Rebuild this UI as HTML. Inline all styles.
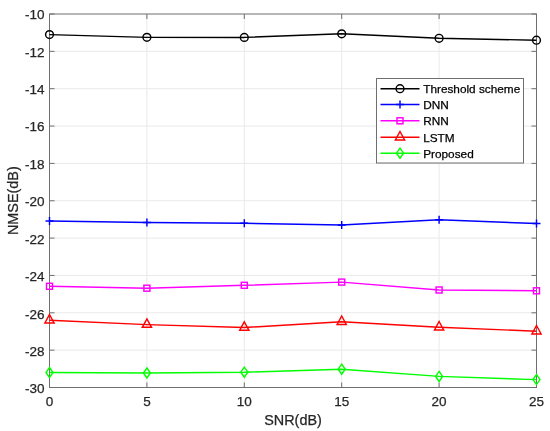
<!DOCTYPE html>
<html><head><meta charset="utf-8"><style>
html,body{margin:0;padding:0;background:#fff;}
svg{display:block;}
text{font-family:"Liberation Sans",Arial,sans-serif;fill:#262626;stroke:#262626;stroke-width:0.25px;}
.t{font-size:13.5px;}
.l{font-size:14.4px;}
.g{font-size:11.8px;fill:#000;stroke:#000;}
</style></head><body>
<svg width="550" height="431" viewBox="0 0 550 431">
<rect width="550" height="431" fill="#fff"/>
<line x1="146.90" y1="14.0" x2="146.90" y2="387.5" stroke="#e9e9e9" stroke-width="1"/>
<line x1="244.30" y1="14.0" x2="244.30" y2="387.5" stroke="#e9e9e9" stroke-width="1"/>
<line x1="341.70" y1="14.0" x2="341.70" y2="387.5" stroke="#e9e9e9" stroke-width="1"/>
<line x1="439.10" y1="14.0" x2="439.10" y2="387.5" stroke="#e9e9e9" stroke-width="1"/>
<line x1="49.5" y1="51.35" x2="536.5" y2="51.35" stroke="#e9e9e9" stroke-width="1"/>
<line x1="49.5" y1="88.70" x2="536.5" y2="88.70" stroke="#e9e9e9" stroke-width="1"/>
<line x1="49.5" y1="126.05" x2="536.5" y2="126.05" stroke="#e9e9e9" stroke-width="1"/>
<line x1="49.5" y1="163.40" x2="536.5" y2="163.40" stroke="#e9e9e9" stroke-width="1"/>
<line x1="49.5" y1="200.75" x2="536.5" y2="200.75" stroke="#e9e9e9" stroke-width="1"/>
<line x1="49.5" y1="238.10" x2="536.5" y2="238.10" stroke="#e9e9e9" stroke-width="1"/>
<line x1="49.5" y1="275.45" x2="536.5" y2="275.45" stroke="#e9e9e9" stroke-width="1"/>
<line x1="49.5" y1="312.80" x2="536.5" y2="312.80" stroke="#e9e9e9" stroke-width="1"/>
<line x1="49.5" y1="350.15" x2="536.5" y2="350.15" stroke="#e9e9e9" stroke-width="1"/>
<line x1="49.50" y1="387.5" x2="49.50" y2="382.5" stroke="#6f6f6f" stroke-width="1"/>
<line x1="49.50" y1="14.0" x2="49.50" y2="19.0" stroke="#6f6f6f" stroke-width="1"/>
<line x1="146.90" y1="387.5" x2="146.90" y2="382.5" stroke="#6f6f6f" stroke-width="1"/>
<line x1="146.90" y1="14.0" x2="146.90" y2="19.0" stroke="#6f6f6f" stroke-width="1"/>
<line x1="244.30" y1="387.5" x2="244.30" y2="382.5" stroke="#6f6f6f" stroke-width="1"/>
<line x1="244.30" y1="14.0" x2="244.30" y2="19.0" stroke="#6f6f6f" stroke-width="1"/>
<line x1="341.70" y1="387.5" x2="341.70" y2="382.5" stroke="#6f6f6f" stroke-width="1"/>
<line x1="341.70" y1="14.0" x2="341.70" y2="19.0" stroke="#6f6f6f" stroke-width="1"/>
<line x1="439.10" y1="387.5" x2="439.10" y2="382.5" stroke="#6f6f6f" stroke-width="1"/>
<line x1="439.10" y1="14.0" x2="439.10" y2="19.0" stroke="#6f6f6f" stroke-width="1"/>
<line x1="536.50" y1="387.5" x2="536.50" y2="382.5" stroke="#6f6f6f" stroke-width="1"/>
<line x1="536.50" y1="14.0" x2="536.50" y2="19.0" stroke="#6f6f6f" stroke-width="1"/>
<line x1="49.5" y1="14.00" x2="54.5" y2="14.00" stroke="#6f6f6f" stroke-width="1"/>
<line x1="536.5" y1="14.00" x2="531.5" y2="14.00" stroke="#6f6f6f" stroke-width="1"/>
<line x1="49.5" y1="51.35" x2="54.5" y2="51.35" stroke="#6f6f6f" stroke-width="1"/>
<line x1="536.5" y1="51.35" x2="531.5" y2="51.35" stroke="#6f6f6f" stroke-width="1"/>
<line x1="49.5" y1="88.70" x2="54.5" y2="88.70" stroke="#6f6f6f" stroke-width="1"/>
<line x1="536.5" y1="88.70" x2="531.5" y2="88.70" stroke="#6f6f6f" stroke-width="1"/>
<line x1="49.5" y1="126.05" x2="54.5" y2="126.05" stroke="#6f6f6f" stroke-width="1"/>
<line x1="536.5" y1="126.05" x2="531.5" y2="126.05" stroke="#6f6f6f" stroke-width="1"/>
<line x1="49.5" y1="163.40" x2="54.5" y2="163.40" stroke="#6f6f6f" stroke-width="1"/>
<line x1="536.5" y1="163.40" x2="531.5" y2="163.40" stroke="#6f6f6f" stroke-width="1"/>
<line x1="49.5" y1="200.75" x2="54.5" y2="200.75" stroke="#6f6f6f" stroke-width="1"/>
<line x1="536.5" y1="200.75" x2="531.5" y2="200.75" stroke="#6f6f6f" stroke-width="1"/>
<line x1="49.5" y1="238.10" x2="54.5" y2="238.10" stroke="#6f6f6f" stroke-width="1"/>
<line x1="536.5" y1="238.10" x2="531.5" y2="238.10" stroke="#6f6f6f" stroke-width="1"/>
<line x1="49.5" y1="275.45" x2="54.5" y2="275.45" stroke="#6f6f6f" stroke-width="1"/>
<line x1="536.5" y1="275.45" x2="531.5" y2="275.45" stroke="#6f6f6f" stroke-width="1"/>
<line x1="49.5" y1="312.80" x2="54.5" y2="312.80" stroke="#6f6f6f" stroke-width="1"/>
<line x1="536.5" y1="312.80" x2="531.5" y2="312.80" stroke="#6f6f6f" stroke-width="1"/>
<line x1="49.5" y1="350.15" x2="54.5" y2="350.15" stroke="#6f6f6f" stroke-width="1"/>
<line x1="536.5" y1="350.15" x2="531.5" y2="350.15" stroke="#6f6f6f" stroke-width="1"/>
<line x1="49.5" y1="387.50" x2="54.5" y2="387.50" stroke="#6f6f6f" stroke-width="1"/>
<line x1="536.5" y1="387.50" x2="531.5" y2="387.50" stroke="#6f6f6f" stroke-width="1"/>
<rect x="49.5" y="14.0" width="487.0" height="373.5" fill="none" stroke="#6f6f6f" stroke-width="1"/>
<polyline points="49.50,34.60 146.90,37.35 244.30,37.40 341.70,33.80 439.10,38.30 536.50,40.20" fill="none" stroke="#000000" stroke-width="1.45" stroke-linejoin="round"/>
<circle cx="49.50" cy="34.60" r="3.9" fill="none" stroke="#000000" stroke-width="1.45"/>
<circle cx="146.90" cy="37.35" r="3.9" fill="none" stroke="#000000" stroke-width="1.45"/>
<circle cx="244.30" cy="37.40" r="3.9" fill="none" stroke="#000000" stroke-width="1.45"/>
<circle cx="341.70" cy="33.80" r="3.9" fill="none" stroke="#000000" stroke-width="1.45"/>
<circle cx="439.10" cy="38.30" r="3.9" fill="none" stroke="#000000" stroke-width="1.45"/>
<circle cx="536.50" cy="40.20" r="3.9" fill="none" stroke="#000000" stroke-width="1.45"/>
<polyline points="49.50,221.00 146.90,222.55 244.30,223.30 341.70,224.95 439.10,219.80 536.50,223.50" fill="none" stroke="#0000ff" stroke-width="1.45" stroke-linejoin="round"/>
<path d="M45.50 221.00H53.50M49.50 217.00V225.00" stroke="#0000ff" stroke-width="1.45" fill="none"/>
<path d="M142.90 222.55H150.90M146.90 218.55V226.55" stroke="#0000ff" stroke-width="1.45" fill="none"/>
<path d="M240.30 223.30H248.30M244.30 219.30V227.30" stroke="#0000ff" stroke-width="1.45" fill="none"/>
<path d="M337.70 224.95H345.70M341.70 220.95V228.95" stroke="#0000ff" stroke-width="1.45" fill="none"/>
<path d="M435.10 219.80H443.10M439.10 215.80V223.80" stroke="#0000ff" stroke-width="1.45" fill="none"/>
<path d="M532.50 223.50H540.50M536.50 219.50V227.50" stroke="#0000ff" stroke-width="1.45" fill="none"/>
<polyline points="49.50,286.30 146.90,288.20 244.30,285.30 341.70,282.10 439.10,290.00 536.50,290.80" fill="none" stroke="#ff00ff" stroke-width="1.45" stroke-linejoin="round"/>
<rect x="46.50" y="283.30" width="6.00" height="6.00" fill="none" stroke="#ff00ff" stroke-width="1.45"/>
<rect x="143.90" y="285.20" width="6.00" height="6.00" fill="none" stroke="#ff00ff" stroke-width="1.45"/>
<rect x="241.30" y="282.30" width="6.00" height="6.00" fill="none" stroke="#ff00ff" stroke-width="1.45"/>
<rect x="338.70" y="279.10" width="6.00" height="6.00" fill="none" stroke="#ff00ff" stroke-width="1.45"/>
<rect x="436.10" y="287.00" width="6.00" height="6.00" fill="none" stroke="#ff00ff" stroke-width="1.45"/>
<rect x="533.50" y="287.80" width="6.00" height="6.00" fill="none" stroke="#ff00ff" stroke-width="1.45"/>
<polyline points="49.50,320.30 146.90,324.60 244.30,327.50 341.70,321.70 439.10,327.20 536.50,331.20" fill="none" stroke="#ff0000" stroke-width="1.45" stroke-linejoin="round"/>
<path d="M49.50 314.60L54.10 323.00H44.90Z" fill="none" stroke="#ff0000" stroke-width="1.45" stroke-linejoin="miter"/>
<path d="M146.90 318.90L151.50 327.30H142.30Z" fill="none" stroke="#ff0000" stroke-width="1.45" stroke-linejoin="miter"/>
<path d="M244.30 321.80L248.90 330.20H239.70Z" fill="none" stroke="#ff0000" stroke-width="1.45" stroke-linejoin="miter"/>
<path d="M341.70 316.00L346.30 324.40H337.10Z" fill="none" stroke="#ff0000" stroke-width="1.45" stroke-linejoin="miter"/>
<path d="M439.10 321.50L443.70 329.90H434.50Z" fill="none" stroke="#ff0000" stroke-width="1.45" stroke-linejoin="miter"/>
<path d="M536.50 325.50L541.10 333.90H531.90Z" fill="none" stroke="#ff0000" stroke-width="1.45" stroke-linejoin="miter"/>
<polyline points="49.50,372.50 146.90,373.00 244.30,372.20 341.70,369.20 439.10,376.40 536.50,379.60" fill="none" stroke="#00ff00" stroke-width="1.45" stroke-linejoin="round"/>
<path d="M49.50 367.50L53.00 372.50L49.50 377.50L46.00 372.50Z" fill="none" stroke="#00ff00" stroke-width="1.45"/>
<path d="M146.90 368.00L150.40 373.00L146.90 378.00L143.40 373.00Z" fill="none" stroke="#00ff00" stroke-width="1.45"/>
<path d="M244.30 367.20L247.80 372.20L244.30 377.20L240.80 372.20Z" fill="none" stroke="#00ff00" stroke-width="1.45"/>
<path d="M341.70 364.20L345.20 369.20L341.70 374.20L338.20 369.20Z" fill="none" stroke="#00ff00" stroke-width="1.45"/>
<path d="M439.10 371.40L442.60 376.40L439.10 381.40L435.60 376.40Z" fill="none" stroke="#00ff00" stroke-width="1.45"/>
<path d="M536.50 374.60L540.00 379.60L536.50 384.60L533.00 379.60Z" fill="none" stroke="#00ff00" stroke-width="1.45"/>
<text x="49.50" y="406" text-anchor="middle" class="t">0</text>
<text x="146.90" y="406" text-anchor="middle" class="t">5</text>
<text x="244.30" y="406" text-anchor="middle" class="t">10</text>
<text x="341.70" y="406" text-anchor="middle" class="t">15</text>
<text x="439.10" y="406" text-anchor="middle" class="t">20</text>
<text x="536.50" y="406" text-anchor="middle" class="t">25</text>
<text x="44.5" y="19" text-anchor="end" class="t">-10</text>
<text x="44.5" y="57" text-anchor="end" class="t">-12</text>
<text x="44.5" y="94" text-anchor="end" class="t">-14</text>
<text x="44.5" y="131" text-anchor="end" class="t">-16</text>
<text x="44.5" y="169" text-anchor="end" class="t">-18</text>
<text x="44.5" y="206" text-anchor="end" class="t">-20</text>
<text x="44.5" y="244" text-anchor="end" class="t">-22</text>
<text x="44.5" y="281" text-anchor="end" class="t">-24</text>
<text x="44.5" y="319" text-anchor="end" class="t">-26</text>
<text x="44.5" y="356" text-anchor="end" class="t">-28</text>
<text x="44.5" y="393" text-anchor="end" class="t">-30</text>
<text x="293" y="425.3" text-anchor="middle" class="l">SNR(dB)</text>
<text transform="translate(18.1 200.7) rotate(-90)" text-anchor="middle" class="l">NMSE(dB)</text>
<rect x="376.5" y="78.5" width="147.0" height="84.5" fill="#fff" stroke="#6f6f6f" stroke-width="1"/>
<line x1="380.5" y1="88.7" x2="419.5" y2="88.7" stroke="#000000" stroke-width="1.45"/>
<circle cx="400.00" cy="88.70" r="3.9" fill="none" stroke="#000000" stroke-width="1.45"/>
<text x="423.2" y="93.30" class="g">Threshold scheme</text>
<line x1="380.5" y1="104.5" x2="419.5" y2="104.5" stroke="#0000ff" stroke-width="1.45"/>
<path d="M396.00 104.50H404.00M400.00 100.50V108.50" stroke="#0000ff" stroke-width="1.45" fill="none"/>
<text x="423.2" y="109.10" class="g">DNN</text>
<line x1="380.5" y1="120.8" x2="419.5" y2="120.8" stroke="#ff00ff" stroke-width="1.45"/>
<rect x="397.00" y="117.80" width="6.00" height="6.00" fill="none" stroke="#ff00ff" stroke-width="1.45"/>
<text x="423.2" y="125.40" class="g">RNN</text>
<line x1="380.5" y1="137.2" x2="419.5" y2="137.2" stroke="#ff0000" stroke-width="1.45"/>
<path d="M400.00 131.50L404.60 139.90H395.40Z" fill="none" stroke="#ff0000" stroke-width="1.45" stroke-linejoin="miter"/>
<text x="423.2" y="141.80" class="g">LSTM</text>
<line x1="380.5" y1="153.2" x2="419.5" y2="153.2" stroke="#00ff00" stroke-width="1.45"/>
<path d="M400.00 148.20L403.50 153.20L400.00 158.20L396.50 153.20Z" fill="none" stroke="#00ff00" stroke-width="1.45"/>
<text x="423.2" y="157.80" class="g">Proposed</text>
</svg>
</body></html>
